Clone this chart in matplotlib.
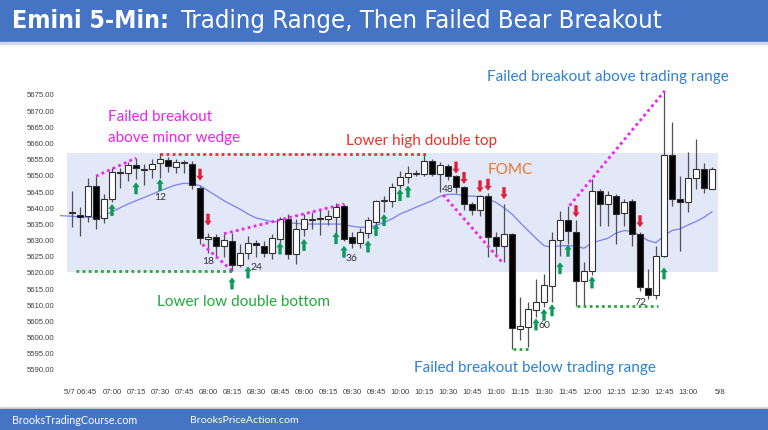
import matplotlib
matplotlib.use('Agg')
import matplotlib.pyplot as plt
from matplotlib.patches import Rectangle
from matplotlib.transforms import ScaledTranslation
from matplotlib import font_manager as fm
import numpy as np

# ---------------- data ----------------
bar_no = list(range(1, 82))
opens = [5638.2, 5637.6, 5637.4, 5646.5, 5636.6, 5642.5, 5650.8, 5650.5, 5652.9, 5651.6,
         5651.8, 5653.6, 5654.7, 5652.4, 5653.6, 5653.5, 5645.8, 5630.2, 5630.9, 5628.0,
         5629.7, 5622.0, 5626.0, 5628.9, 5628.0, 5626.0, 5630.2, 5636.4, 5625.5, 5633.2,
         5636.2, 5636.5, 5636.4, 5637.0, 5640.5, 5630.7, 5629.0, 5632.0, 5635.3, 5641.9,
         5642.0, 5647.0, 5649.3, 5650.4, 5650.4, 5654.4, 5650.3, 5652.6, 5649.8, 5646.2,
         5641.0, 5639.0, 5643.6, 5630.7, 5628.1, 5631.7, 5602.4, 5603.0, 5608.3, 5610.6,
         5615.8, 5629.9, 5635.9, 5632.2, 5617.3, 5620.4, 5645.1, 5641.0, 5643.6, 5638.1,
         5642.0, 5631.7, 5615.0, 5612.9, 5625.0, 5656.2, 5642.6, 5641.5, 5648.9, 5651.8,
         5645.6]
highs = [5645.0, 5640.0, 5649.0, 5649.6, 5644.0, 5652.0, 5652.0, 5654.0, 5655.2, 5653.5,
         5655.0, 5656.8, 5655.5, 5655.0, 5654.6, 5654.3, 5646.6, 5632.0, 5631.7, 5631.7,
         5632.0, 5628.6, 5631.2, 5630.0, 5629.5, 5631.7, 5637.0, 5638.0, 5636.4, 5637.8,
         5638.6, 5639.2, 5639.0, 5641.3, 5641.0, 5632.2, 5633.5, 5637.0, 5642.3, 5643.6,
         5647.5, 5651.2, 5652.6, 5651.5, 5656.3, 5654.8, 5654.0, 5653.3, 5649.9, 5646.7,
         5641.5, 5643.8, 5644.4, 5632.2, 5641.0, 5631.9, 5612.2, 5610.6, 5617.8, 5619.4,
         5632.2, 5638.9, 5640.5, 5635.9, 5623.0, 5648.7, 5645.6, 5645.1, 5644.1, 5642.6,
         5642.6, 5632.2, 5621.0, 5628.1, 5676.0, 5666.2, 5649.8, 5657.0, 5661.1, 5653.6,
         5652.3]
lows = [5633.8, 5631.2, 5635.5, 5633.2, 5635.0, 5641.5, 5646.0, 5648.0, 5648.7, 5647.0,
        5649.0, 5649.0, 5650.8, 5650.5, 5650.5, 5645.5, 5628.5, 5626.0, 5625.0, 5624.5,
        5620.4, 5621.5, 5624.0, 5624.5, 5624.5, 5624.0, 5629.0, 5624.0, 5622.5, 5631.0,
        5633.3, 5631.5, 5634.5, 5631.5, 5629.5, 5627.5, 5627.5, 5630.5, 5633.5, 5638.6,
        5640.0, 5645.5, 5647.5, 5649.5, 5649.5, 5649.5, 5644.6, 5648.3, 5644.5, 5639.0,
        5637.5, 5637.4, 5624.5, 5624.5, 5623.0, 5596.2, 5598.8, 5596.7, 5606.0, 5609.2,
        5610.6, 5625.0, 5628.6, 5609.6, 5609.6, 5619.0, 5634.3, 5634.3, 5628.6, 5634.3,
        5628.1, 5614.2, 5611.6, 5611.6, 5624.5, 5640.5, 5626.6, 5638.4, 5645.6, 5644.5,
        5645.6]
closes = [5638.5, 5636.9, 5646.7, 5636.3, 5642.5, 5651.0, 5650.5, 5653.0, 5652.0, 5651.9,
          5653.4, 5655.0, 5652.6, 5653.9, 5653.8, 5647.0, 5630.4, 5630.9, 5628.0, 5630.0,
          5622.0, 5626.0, 5629.0, 5628.3, 5626.0, 5630.4, 5636.4, 5625.5, 5633.3, 5636.3,
          5636.5, 5636.4, 5637.3, 5640.2, 5630.3, 5628.9, 5632.2, 5635.9, 5642.0, 5642.1,
          5646.1, 5649.3, 5650.5, 5650.6, 5654.3, 5650.3, 5653.2, 5649.7, 5646.3, 5641.0,
          5639.0, 5643.6, 5630.7, 5628.1, 5631.7, 5602.6, 5603.2, 5608.6, 5610.6, 5616.0,
          5630.0, 5636.1, 5632.8, 5617.3, 5620.4, 5645.1, 5641.0, 5643.8, 5637.9, 5641.7,
          5631.7, 5615.2, 5612.9, 5624.8, 5656.2, 5642.6, 5641.7, 5648.9, 5651.8, 5645.9,
          5651.8]

ema_x = [-0.5] + list(range(1, 82))
ema = [5637.4,
       5637.2, 5637.0, 5636.9, 5636.9, 5637.4, 5638.6, 5639.8, 5641.0, 5642.0, 5643.0,
       5644.0, 5645.1, 5646.0, 5646.9, 5647.4, 5647.2, 5646.7, 5645.1, 5643.6, 5642.0,
       5640.7, 5639.4, 5637.9, 5636.7, 5636.1, 5635.5, 5635.5, 5635.3, 5635.0, 5634.8,
       5634.8, 5634.8, 5634.8, 5634.8, 5634.7, 5634.1, 5633.8, 5633.8, 5634.3, 5635.3,
       5636.4, 5637.9, 5638.9, 5640.0, 5641.0, 5642.0, 5643.4, 5644.0, 5644.0, 5643.6,
       5643.4, 5643.3, 5642.5, 5641.5, 5639.8, 5637.9, 5635.3, 5632.8, 5630.4, 5628.1,
       5627.6, 5628.1, 5628.1, 5628.0, 5627.3, 5629.0, 5629.7, 5630.4, 5632.0, 5632.8,
       5632.5, 5631.2, 5629.7, 5629.0, 5631.2, 5632.8, 5633.3, 5634.5, 5635.6, 5636.9,
       5638.6]

tick_bars = [3, 6, 9, 12, 15, 18, 21, 24, 27, 30, 33, 36, 39, 42, 45, 48, 51, 54, 57,
             60, 63, 66, 69, 72, 75, 78, 82]
tick_labels = ['5/7 06:45', '07:00', '07:15', '07:30', '07:45', '08:00', '08:15', '08:30',
               '08:45', '09:00', '09:15', '09:30', '09:45', '10:00', '10:15', '10:30',
               '10:45', '11:00', '11:15', '11:30', '11:45', '12:00', '12:15', '12:30',
               '12:45', '13:00', '5/8']
y_ticks = list(range(5590, 5680, 5))

green_arrow_bars = [6, 9, 12, 21, 23, 27, 30, 34, 35, 38, 39, 40, 42, 43,
                    59, 60, 61, 62, 63, 66, 75]
green_arrow_tips = [5641.0, 5647.7, 5648.7, 5618.3, 5621.7, 5629.1, 5630.2, 5632.3,
                    5628.1, 5629.7, 5634.8, 5637.9, 5645.6, 5646.7, 5605.6, 5608.6,
                    5610.0, 5623.0, 5628.4, 5618.6, 5621.4]
red_arrow_bars = [17, 18, 49, 50, 52, 53, 55, 64, 72]
red_arrow_tips = [5648.2, 5634.3, 5650.4, 5647.2, 5644.6, 5645.1, 5642.5, 5636.9, 5633.8]

range_low, range_high = 5620.0, 5656.8

numbered_bars = [12, 18, 24, 36, 48, 60, 72]
number_label_prices = [5643.2, 5623.4, 5621.8, 5624.6, 5645.9, 5603.6, 5611.0]

MAG = '#ee22ee'
GRN = '#22a83a'
RED = '#f0302a'
lines = [
    (4, 5649.6, 9, 5655.2, MAG),
    (12, 5656.5, 45.3, 5656.5, RED),
    (20, 5631.8, 35, 5641.0, MAG),
    (17.3, 5628.5, 21, 5620.4, MAG),
    (1.5, 5620.2, 21, 5620.2, GRN),
    (47.4, 5643.8, 54.9, 5622.6, MAG),
    (56.1, 5596.3, 58.2, 5596.3, GRN),
    (63.2, 5640.5, 75.1, 5676.0, MAG),
    (64.1, 5609.4, 74.3, 5609.4, GRN),
]

# ---------------- figure ----------------
W, H = 768, 431
fig = plt.figure(figsize=(W / 100, H / 100), dpi=100)
fig.patch.set_facecolor('white')
BLUE = '#4674c4'

def px_rect(x0, y0, x1, y1, color, z=0):
    fig.patches.append(Rectangle((x0 / W, 1 - y1 / H), (x1 - x0) / W, (y1 - y0) / H,
                                 transform=fig.transFigure, color=color, zorder=z))

px_rect(0, 0, W, 43, BLUE)
px_rect(0, 43, W, 45, '#cfd8ea')
px_rect(0, 408, W, 410, '#d9d9d9')
px_rect(0, 410, W, H, BLUE)

ax = fig.add_axes([60 / W, 1 - 382 / H, 670 / W, (382 - 85) / H])
ax.set_facecolor('none')
ax.set_xlim(-0.5, 83.25)
ax.set_ylim(5586.28, 5678.09)
for s in ax.spines.values():
    s.set_visible(False)

ax.add_patch(Rectangle((0.375, range_low), 81.75 - 0.375, range_high - range_low,
                       facecolor='#e3e8f8', edgecolor='none', zorder=0))

ax.plot(ema_x, ema, color='#7a7ff0', lw=0.9, zorder=2)

x = np.array(bar_no, dtype=float)
o = np.array(opens); c = np.array(closes); h = np.array(highs); l = np.array(lows)
ax.vlines(x, l, h, color='#505050', lw=0.9, zorder=3)
bottom = np.minimum(o, c)
height = np.maximum(np.abs(c - o), 0.3)
colors = ['black' if cc < oo else 'white' for oo, cc in zip(o, c)]
ax.bar(x, height, bottom=bottom, width=0.72, color=colors, edgecolor='#303030',
       linewidth=0.8, zorder=4)

for x0, y0, x1, y1, col in lines:
    ax.plot([x0, x1], [y0, y1], color=col, lw=2.0, linestyle=(0, (1, 1.2)), zorder=5)

ALEN = 3.7
for b, tip in zip(green_arrow_bars, green_arrow_tips):
    ax.arrow(b, tip - ALEN, 0, ALEN, width=0.42, head_width=0.9, head_length=1.5,
             length_includes_head=True, color='#0c9a5a', lw=0, zorder=6)
for b, tip in zip(red_arrow_bars, red_arrow_tips):
    ax.arrow(b, tip + ALEN, 0, -ALEN, width=0.42, head_width=0.9, head_length=1.5,
             length_includes_head=True, color='#e01e36', lw=0, zorder=6)

for b, p in zip(numbered_bars, number_label_prices):
    ax.text(b, p, str(b), ha='center', va='center', fontsize=7.5, family='Lato',
            color='#333333', zorder=7)

ax.set_yticks(y_ticks)
ax.set_yticklabels([f'{v:.2f}' for v in y_ticks])
ax.set_xticks(tick_bars)
ax.set_xticklabels(tick_labels)
ax.tick_params(axis='both', length=0, labelsize=5.6, labelcolor='#404040')
ax.tick_params(axis='y', pad=4)
ax.tick_params(axis='x', pad=5)
for lab in ax.get_xticklabels() + ax.get_yticklabels():
    lab.set_family(['Liberation Sans', 'DejaVu Sans'])
first = ax.get_xticklabels()[0]
first.set_transform(first.get_transform() + ScaledTranslation(-8 / 100, 0, fig.dpi_scale_trans))

def ptext(px, py, s, color, size=11, **kw):
    fig.text(px / W, 1 - py / H, s, color=color, fontsize=size, family='Lato',
             ha='left', va='center', **kw)

ptext(108, 117, 'Failed breakout', MAG)
ptext(108, 138, 'above minor wedge', MAG)
ptext(346, 141, 'Lower high double top', RED)
ptext(488, 170, 'FOMC', '#e8772e')
ptext(487, 77, 'Failed breakout above trading range', '#2f80d0')
ptext(157, 302, 'Lower low double bottom', GRN)
ptext(414, 368, 'Failed breakout below trading range', '#2f80d0')

# ---- title and footer: font sized to the measured width ----
ttf = fm.fontManager.ttflist
narrow = None
for f in ttf:
    if f.name == 'Liberation Sans Narrow':
        narrow = dict(family='Liberation Sans Narrow')
        break
if narrow is None:
    for f in ttf:
        if f.name == 'DejaVu Sans' and 'Condensed' in f.fname:
            narrow = dict(family='DejaVu Sans', stretch='condensed')
            break
if narrow is None:
    narrow = dict(family='Liberation Sans')

fig.canvas.draw()
renderer = fig.canvas.get_renderer()

def fitted_text(px, py, s, target_w, base=16, **kw):
    t = fig.text(px / W, 1 - py / H, s, fontsize=base, ha='left', va='center', **kw)
    w = t.get_window_extent(renderer).width
    t.set_fontsize(base * target_w / w)
    return t

fitted_text(12, 21, 'Emini 5-Min:', 158, color='white', fontweight='bold', **narrow)
fitted_text(181, 21, 'Trading Range, Then Failed Bear Breakout', 483, color='white', **narrow)

fitted_text(12, 421, 'BrooksTradingCourse.com', 126, base=8, color='white', family='Lato')
fitted_text(190, 421, 'BrooksPriceAction.com', 108, base=8, color='white', family='Lato')

fig.savefig('out.png', dpi=100)
